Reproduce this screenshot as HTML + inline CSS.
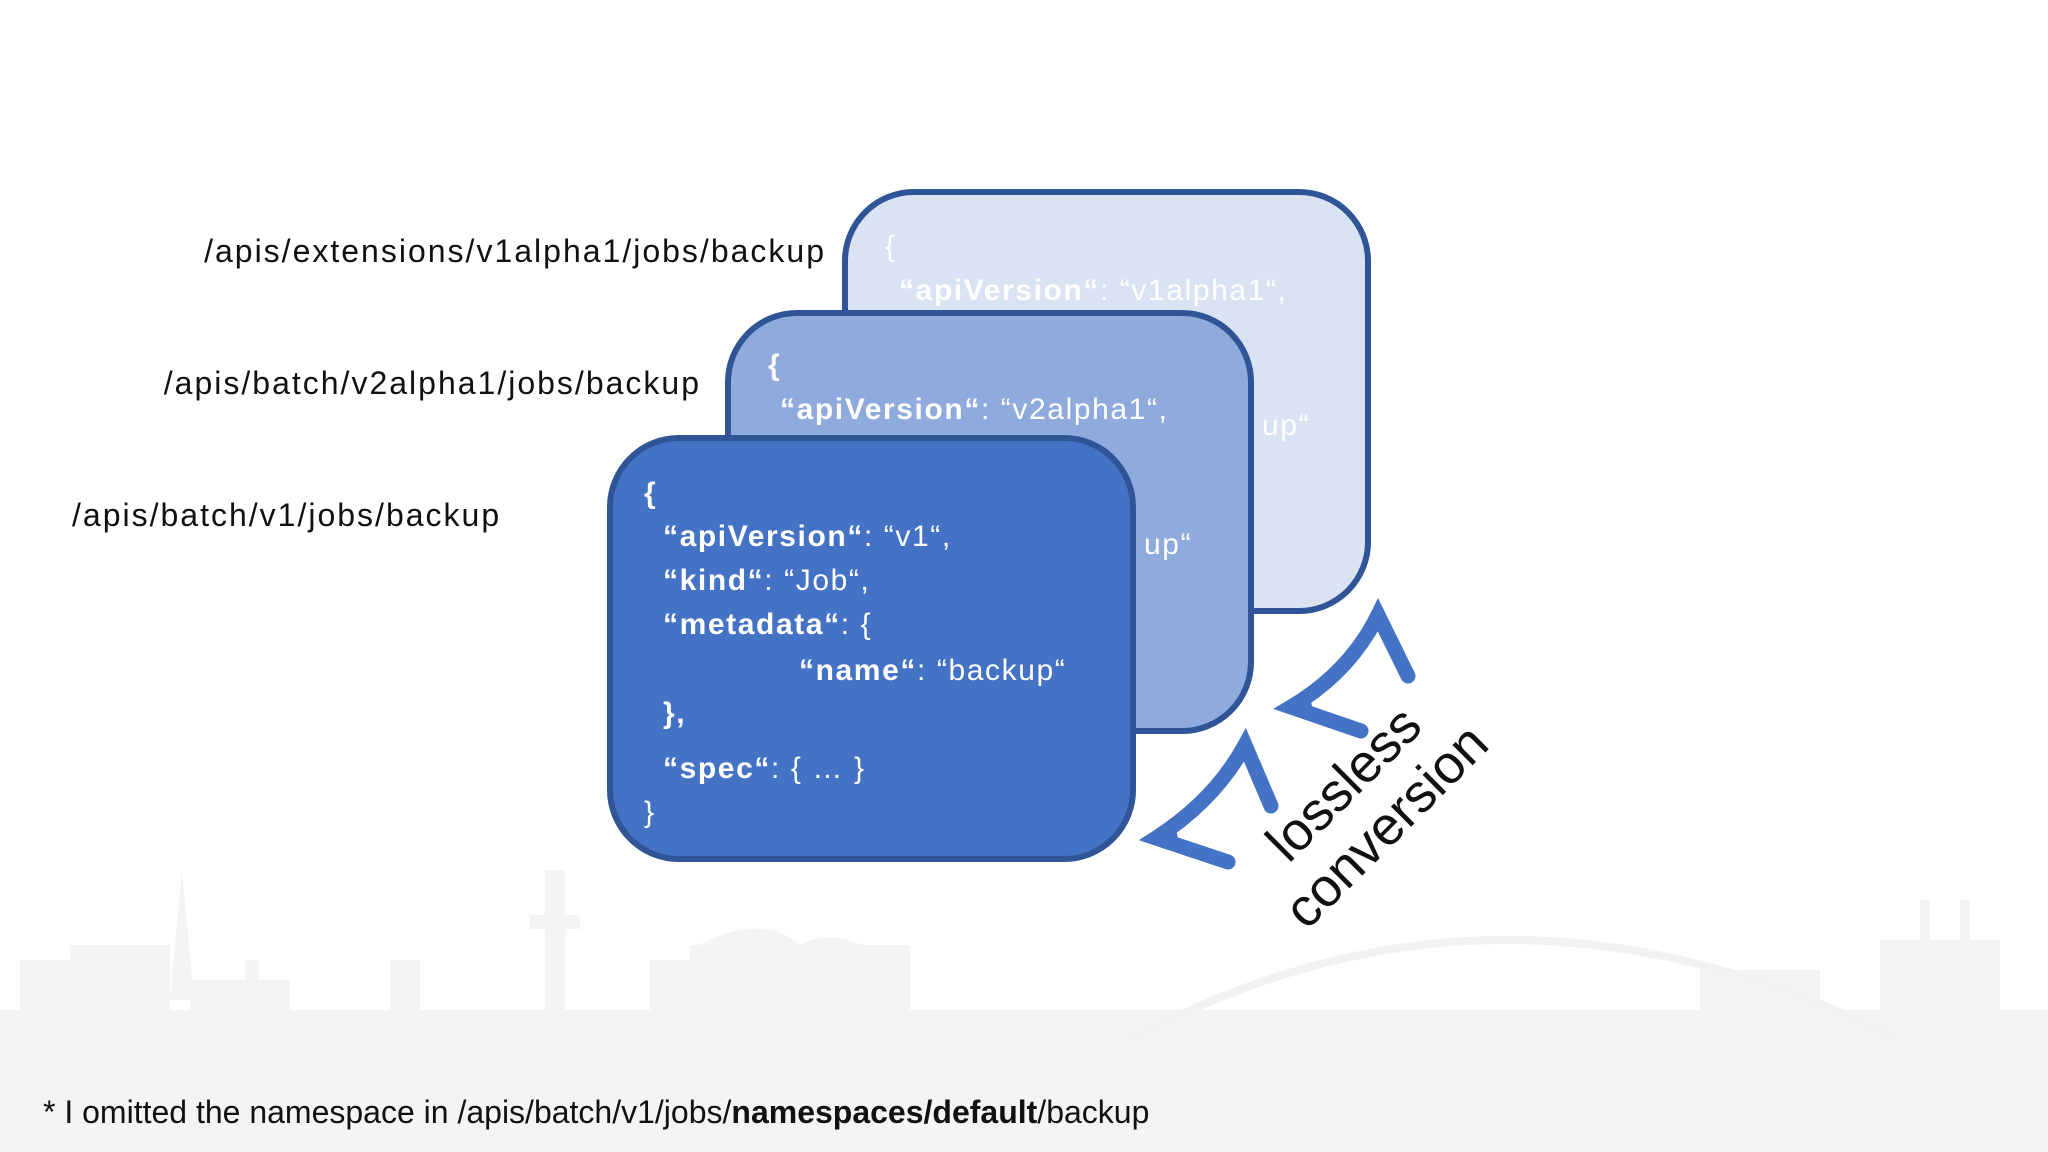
<!DOCTYPE html>
<html><head><meta charset="utf-8"><style>
body{margin:0;width:2048px;height:1152px;background:#fff;position:relative;overflow:hidden;font-family:"Liberation Sans",sans-serif}
.lbl{position:absolute;font-size:32px;color:#111;white-space:nowrap;letter-spacing:2px}
.card{position:absolute;box-sizing:border-box;border:6px solid #2f5597;border-radius:72px;overflow:hidden}
.t{position:absolute;color:#fff;font-size:30px;white-space:nowrap;letter-spacing:1.6px}
b{font-weight:bold}
</style></head><body>
<svg style="position:absolute;left:0;top:0" width="2048" height="1152">
<g fill="#f4f4f5">
<rect x="0" y="1010" width="2048" height="142"/>
<rect x="0" y="1010" width="2048" height="142"/>
<rect x="20" y="960" width="60" height="60"/><rect x="70" y="945" width="100" height="70"/>
<polygon points="170,1000 182,870 194,1000"/><rect x="190" y="980" width="100" height="40"/>
<rect x="245" y="960" width="14" height="60"/><rect x="390" y="960" width="30" height="60"/>
<rect x="545" y="870" width="20" height="150"/><rect x="530" y="915" width="50" height="14"/>
<rect x="650" y="960" width="40" height="60"/><rect x="690" y="945" width="220" height="75"/>
<path d="M690 950 Q760 910 800 945 Q850 920 910 980 L910 1000 L690 1000Z"/>
<rect x="1700" y="970" width="120" height="50"/>
<rect x="1880" y="940" width="120" height="80"/><rect x="1920" y="900" width="10" height="60"/>
<rect x="1960" y="900" width="10" height="60"/>
</g>
<path d="M1130 1040 Q1500 840 1900 1040" fill="none" stroke="#f2f2f3" stroke-width="8"/>
</svg>
<div class="lbl" style="right:1222px;top:233px">/apis/extensions/v1alpha1/jobs/backup</div>
<div class="lbl" style="right:1347px;top:365px">/apis/batch/v2alpha1/jobs/backup</div>
<div class="lbl" style="left:72px;top:497px">/apis/batch/v1/jobs/backup</div>

<div class="card" style="left:842px;top:189px;width:529px;height:425px;background:#dae3f3">
<div class="t" style="left:37px;top:35px">{</div>
<div class="t" style="left:51px;top:79px"><b>“apiVersion“</b>: “v1alpha1“,</div>
<div class="t" style="left:414px;top:214px">up“</div>
</div>
<div class="card" style="left:725px;top:310px;width:529px;height:424px;background:#8faadc">
<div class="t" style="left:37px;top:33px"><b>{</b></div>
<div class="t" style="left:49px;top:77px"><b>“apiVersion“</b>: “v2alpha1“,</div>
<div class="t" style="left:413px;top:212px">up“</div>
</div>
<div class="card" style="left:607px;top:435px;width:529px;height:427px;background:#4472c4">
<div class="t" style="left:31px;top:36px"><b>{</b></div>
<div class="t" style="left:50px;top:79px"><b>“apiVersion“</b>: “v1“,</div>
<div class="t" style="left:50px;top:123px"><b>“kind“</b>: “Job“,</div>
<div class="t" style="left:50px;top:167px"><b>“metadata“</b>: {</div>
<div class="t" style="left:186px;top:213px"><b>“name“</b>: “backup“</div>
<div class="t" style="left:50px;top:256px"><b>},</b></div>
<div class="t" style="left:50px;top:311px"><b>“spec“</b>: {  … }</div>
<div class="t" style="left:31px;top:355px">}</div>
</div>

<svg style="position:absolute;left:0;top:0" width="2048" height="1152">
<g fill="none" stroke="#4472c4" stroke-width="15" stroke-linecap="round">
<path d="M1228 862 L1156 838 Q1215 800 1245 745 L1271 806"/>
<path d="M1361 731 L1291 707 Q1350 672 1378 615 L1408 676"/>
</g>
<polygon points="1152,840 1175,826 1180,846" fill="#4472c4"/>
<polygon points="1245,736 1236,760 1256,760" fill="#4472c4"/>
<polygon points="1286,709 1309,694 1314,714" fill="#4472c4"/>
<polygon points="1378,606 1369,630 1389,630" fill="#4472c4"/>
</svg>
<div style="position:absolute;left:1195px;top:745px;width:340px;transform:rotate(-45deg);transform-origin:center;text-align:center;font-size:54px;line-height:60px;color:#111">lossless<br>conversion</div>

<div class="lbl" style="left:43px;top:1094px;font-size:32px;letter-spacing:0">* I omitted the namespace in /apis/batch/v1/jobs/<b>namespaces/default</b>/backup</div>
</body></html>
